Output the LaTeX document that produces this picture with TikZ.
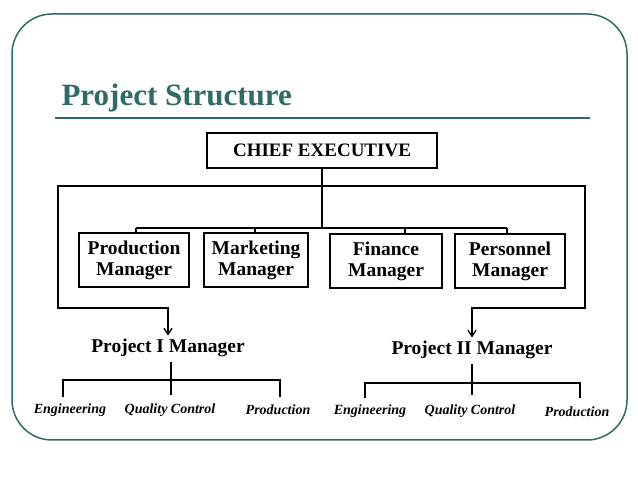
\documentclass[tikz,border=0pt]{standalone}
\usepackage{fontspec}
\setmainfont{Liberation Serif}
\usetikzlibrary{arrows.meta}
\definecolor{teal1}{HTML}{2F6B68}
\begin{document}
\begin{tikzpicture}[x=1pt,y=-1pt,
 box/.style={draw,line width=1.6pt,inner sep=0pt,font=\bfseries\fontsize{19.5}{21}\selectfont,align=center},
 ln/.style={line width=1.4pt},
 lab/.style={font=\bfseries\itshape\fontsize{14}{15}\selectfont},
 pm/.style={font=\bfseries\fontsize{19.5}{21}\selectfont}]
\useasboundingbox (0,0) rectangle (638,478);
\draw[teal1,line width=1.5pt,rounded corners=40] (12,14) rectangle (627,440);
\node[anchor=base west,text=teal1,font=\bfseries\fontsize{31}{33}\selectfont] (title) at (58,106) {Project Structure};
\draw[teal1,line width=1.5pt] (55,118) -- (590,118);
\node[box,minimum width=230,minimum height=35,font=\bfseries\fontsize{19}{20}\selectfont] (ce) at (322,150.5) {CHIEF EXECUTIVE};
\node[box,minimum width=110,minimum height=54] (pr) at (134,260) {Production\\Manager};
\node[box,minimum width=104,minimum height=54] (mk) at (256,260) {Marketing\\Manager};
\node[box,minimum width=112,minimum height=54] (fi) at (386,261) {Finance\\Manager};
\node[box,minimum width=110,minimum height=54] (pe) at (510,261) {Personnel\\Manager};
\node[pm] (p1) at (168,348) {Project I Manager};
\node[pm] (p2) at (472,350) {Project II Manager};
\coordinate (j1) at (322,186);
\coordinate (j2) at (322,228);
\draw[ln] (ce.south) -- (j2);
\draw[ln] (136,228) -- (507,228);
\draw[ln] (136,228) -- (136,233);
\draw[ln] (255,228) -- (255,233);
\draw[ln] (405,228) -- (405,234);
\draw[ln] (507,228) -- (507,234);
\draw[ln,-{Straight Barb[length=6pt,width=8pt]}] (j1) -| (58,308) -| (p1.north);
\draw[ln,-{Straight Barb[length=6pt,width=8pt]}] (j1) -| (585,308) -| (p2.north);
\node[lab] (e1) at (70,410) {Engineering};
\node[lab] (q1) at (170,410) {Quality Control};
\node[lab] (r1) at (278,410) {Production};
\node[lab] (e2) at (370,411) {Engineering};
\node[lab] (q2) at (470,411) {Quality Control};
\node[lab] (r2) at (577,412) {Production};
\draw[ln] (p1.south) ++(3,2) -- (171,395);
\draw[ln] (63,397) -- (63,380) -- (280,380) -- (280,397);
\draw[ln] (p2.south) ++(0,2) -- (472,395);
\draw[ln] (365,398) -- (365,383) -- (580,383) -- (580,398);
\end{tikzpicture}
\end{document}
